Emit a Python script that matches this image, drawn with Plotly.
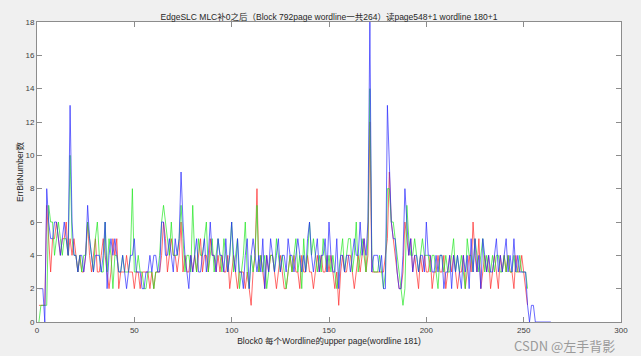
import plotly.graph_objects as go

red_vals = [1,1,1,1,7,5,3,5,5,6,
 5,4,5,5,6,4,5,4,5,4,
 3,4,3,3,4,6,4,3,4,5,
 3,3,4,5,4,3,2,3,5,4,
 5,2,3,3,3,4,3,3,3,2,
 3,3,2,3,3,3,3,2,3,2,
 3,3,3,4,6,5,3,4,5,4,
 4,3,4,6,3,4,3,3,4,3,
 4,3,4,5,3,4,4,3,5,4,
 4,3,4,3,4,3,3,4,2,3,
 4,3,2,3,3,3,2,3,2,1,
 3,4,8,3,4,3,2,4,3,4,
 4,3,2,3,4,3,2,2,3,4,
 3,4,3,3,2,4,3,3,4,3,
 3,2,3,4,3,4,3,3,4,3,
 4,3,2,3,1,3,4,3,3,4,
 4,3,2,3,4,3,4,5,3,4,
 12,3,3,3,3,3,3,3,4,5,
 9,6,5,4,3,2,2,3,6,5,
 4,5,3,4,3,2,4,3,4,3,
 3,4,2,3,3,4,3,3,4,2,
 3,4,3,4,3,2,3,3,4,2,
 3,4,3,6,4,3,5,2,3,4,
 3,4,2,3,4,3,2,4,3,4,
 3,4,3,3,2,4,3,3,4,3,
 2,1]

green_vals = [0,1,1,1,1,7,6,6,4,5,
 6,5,4,5,5,4,10,5,4,4,
 3,4,3,4,4,6,5,4,3,5,
 6,4,3,3,6,3,5,4,2,4,
 4,3,3,4,3,3,3,4,8,3,
 3,4,3,3,2,2,3,3,3,2,
 3,3,4,6,7,6,5,4,6,4,
 4,4,5,7,5,3,4,4,3,7,
 4,3,5,4,4,5,6,3,4,5,
 3,4,5,4,3,5,4,3,4,6,
 3,4,5,2,3,4,6,3,2,4,
 3,4,7,3,4,3,4,2,3,4,
 4,3,5,4,3,4,3,2,3,4,
 3,4,5,3,4,2,5,3,4,6,
 4,5,4,3,4,3,5,4,3,4,
 3,4,3,2,3,4,5,3,4,5,
 5,3,4,6,3,4,5,4,3,5,
 14,4,3,3,3,4,3,2,3,8,
 8,6,6,5,4,3,2,1,2,7,
 5,4,4,5,4,3,4,5,4,4,
 4,3,4,4,3,2,4,4,3,4,
 3,3,4,5,3,4,3,4,3,2,
 5,4,4,3,5,4,3,4,5,3,
 4,3,3,4,3,4,4,3,3,4,
 3,4,3,3,4,3,3,4,3,3,
 3,2]

blue_vals = [2,2,2,0,8,6,5,5,6,6,
 5,4,5,6,5,4,13,6,4,4,
 3,4,4,3,4,7,5,4,3,4,
 4,4,3,4,6,2,4,5,4,5,
 4,3,3,4,3,2,3,4,4,5,
 3,3,3,2,2,3,3,4,3,4,
 4,3,3,6,6,4,4,5,4,3,
 5,4,5,9,6,4,3,2,4,3,
 4,5,3,3,4,5,3,4,6,4,
 4,3,5,4,4,3,5,3,4,6,
 4,3,5,3,3,2,4,5,2,4,
 5,4,3,4,3,5,2,4,3,5,
 4,3,4,5,3,4,4,3,5,4,
 4,3,4,5,4,3,4,3,5,6,
 4,3,4,5,3,4,4,5,3,6,
 4,3,3,5,2,4,4,3,4,4,
 3,4,5,4,4,6,4,5,4,6,
 18,3,4,4,4,3,4,2,2,13,
 10,6,5,5,3,2,2,4,8,6,
 4,5,3,4,4,3,4,4,3,6,
 4,4,3,3,4,3,4,4,2,3,
 3,4,2,4,3,4,3,2,4,3,
 4,2,5,3,5,3,4,2,5,4,
 3,4,3,3,4,5,3,4,3,4,
 5,3,4,3,5,3,4,3,3,3,
 3,1,0,1,1,0,0,0,0,0,
 0,0,0,0]

x_red = list(range(1, len(red_vals) + 1))
x_green = list(range(1, len(green_vals) + 1))
x_blue = list(range(1, len(blue_vals) + 1))

x_ticks = [0, 50, 100, 150, 200, 250, 300]
y_ticks = [0, 2, 4, 6, 8, 10, 12, 14, 16, 18]

title_text = "EdgeSLC MLC补0之后（Block 792page wordline一共264）读page548+1 wordline 180+1"
x_title = "Block0 每个Wordline的upper page(wordline 181)"
y_title = "ErrBitNumber数"

FONT = "Liberation Sans, Arial, Noto Sans CJK SC, sans-serif"

fig = go.Figure()
fig.add_trace(go.Scatter(x=x_red, y=red_vals, mode="lines",
                         line=dict(color="#ff2a2a", width=0.7), showlegend=False))
fig.add_trace(go.Scatter(x=x_green, y=green_vals, mode="lines",
                         line=dict(color="#22e622", width=0.7), showlegend=False))
fig.add_trace(go.Scatter(x=x_blue, y=blue_vals, mode="lines",
                         line=dict(color="#2a2aff", width=0.7), showlegend=False))

axis_common = dict(showgrid=False, zeroline=False, showline=True, linecolor="#8c8c8c",
                   linewidth=1, mirror="ticks", ticks="inside", ticklen=5,
                   tickcolor="#8c8c8c", tickfont=dict(family=FONT, size=8, color="#404040"))

fig.update_layout(
    width=641, height=356,
    paper_bgcolor="#f0f0f0", plot_bgcolor="#ffffff",
    margin=dict(l=37, r=20, t=22, b=34),
    font=dict(family=FONT, color="#262626"),
    title=dict(text=title_text, x=0.5, xanchor="center", xref="paper",
               y=1, yref="paper", yanchor="bottom", pad=dict(b=2),
               font=dict(family=FONT, size=8.5, color="#262626")),
    xaxis=dict(range=[0, 300], tickvals=x_ticks, **axis_common,
               title=dict(text=x_title, standoff=4, font=dict(family=FONT, size=8.5, color="#262626"))),
    yaxis=dict(range=[0, 18], tickvals=y_ticks, **axis_common,
               title=dict(text=y_title, standoff=0, font=dict(family=FONT, size=8.5, color="#262626"))),
    annotations=[dict(text="CSDN @左手背影", xref="paper", yref="paper", x=0.992, y=-0.112,
                      xanchor="right", yanchor="bottom", showarrow=False, borderpad=0,
                      font=dict(family="Noto Sans CJK SC, sans-serif", size=13, color="#9a9a9a"))],
)

fig.write_html("out.html")
